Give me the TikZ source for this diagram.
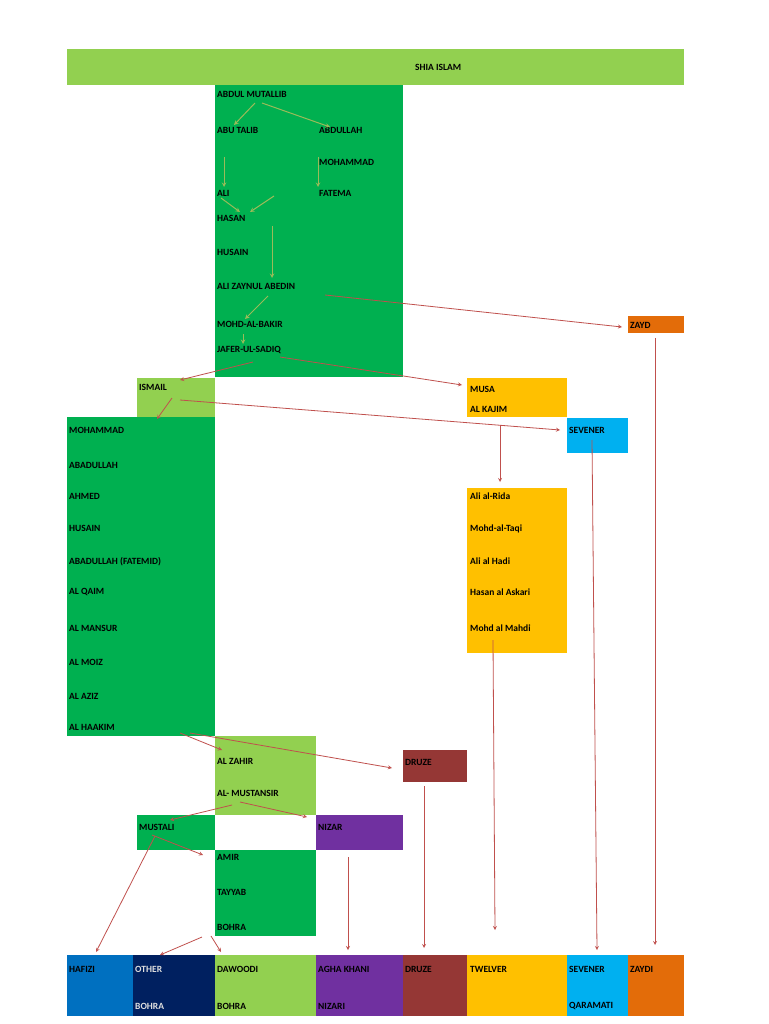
\documentclass[tikz,border=0pt]{standalone}
\usepackage{fontspec}
\setmainfont{Carlito}
\definecolor{lg}{RGB}{146,208,80}
\definecolor{dg}{RGB}{0,176,80}
\definecolor{pu}{RGB}{112,48,160}
\definecolor{dr}{RGB}{149,55,53}
\definecolor{ye}{RGB}{255,192,0}
\definecolor{sb}{RGB}{0,176,240}
\definecolor{orr}{RGB}{227,108,9}
\definecolor{bl}{RGB}{0,112,192}
\definecolor{nv}{RGB}{0,32,96}
\definecolor{ga}{RGB}{155,187,89}
\definecolor{ra}{RGB}{192,80,77}
\begin{document}
\begin{tikzpicture}[x=1pt,y=-1pt,
 t/.style={anchor=west,inner sep=0pt,font=\bfseries\fontsize{9.5}{10}\selectfont},
 ga/.style={draw=ga,line width=1pt,-stealth},
 ra/.style={draw=ra,line width=0.8pt,-stealth}]
\useasboundingbox (0,0) rectangle (768,1024);
\fill[white] (0,0) rectangle (768,1024);
% boxes
\fill[lg] (67,49) rectangle (684,85);
\fill[dg] (215,85) rectangle (403,377);
\fill[lg] (137,378) rectangle (215,417);
\fill[dg] (67,417) rectangle (215,736);
\fill[lg] (215,736) rectangle (316,815);
\fill[dg] (137,815) rectangle (215,850);
\fill[pu] (316,815) rectangle (403,850);
\fill[dg] (215,850) rectangle (316,936);
\fill[dr] (403,750) rectangle (467,782);
\fill[ye] (467,378) rectangle (567,417);
\fill[sb] (567,418) rectangle (628,453);
\fill[orr] (628,316) rectangle (684,333);
\fill[ye] (467,488) rectangle (567,653);
\fill[bl] (67,955) rectangle (133,1016);
\fill[nv] (133,955) rectangle (215,1016);
\fill[lg] (215,955) rectangle (316,1016);
\fill[pu] (316,955) rectangle (403,1016);
\fill[dr] (403,955) rectangle (467,1016);
\fill[ye] (467,955) rectangle (567,1016);
\fill[sb] (567,955) rectangle (628,1016);
\fill[orr] (628,955) rectangle (684,1016);
% texts
\node[t] (shia) at (415,67) {SHIA ISLAM};
\node[t] (amut) at (217,94) {ABDUL MUTALLIB};
\node[t] (abut) at (217,130) {ABU TALIB};
\node[t] (abdu) at (319,130) {ABDULLAH};
\node[t] (moh) at (319,162) {MOHAMMAD};
\node[t] (ali) at (217,193) {ALI};
\node[t] (fat) at (319,193) {FATEMA};
\node[t] (has) at (217,218) {HASAN};
\node[t] (hus) at (217,252) {HUSAIN};
\node[t] (azay) at (217,286) {ALI ZAYNUL ABEDIN};
\node[t] (bak) at (217,324) {MOHD-AL-BAKIR};
\node[t] (jaf) at (217,350) {JAFER-UL-SADIQ};
\node[t] (ism) at (139,387) {ISMAIL};
\node[t] (m2) at (69,430) {MOHAMMAD};
\node[t] at (69,465) {ABADULLAH};
\node[t] at (69,496) {AHMED};
\node[t] at (69,528) {HUSAIN};
\node[t] at (69,562) {ABADULLAH (FATEMID)};
\node[t] at (69,592) {AL QAIM};
\node[t] at (69,628) {AL MANSUR};
\node[t] at (69,662) {AL MOIZ};
\node[t] at (69,696) {AL AZIZ};
\node[t] (haak) at (69,727) {AL HAAKIM};
\node[t] (zah) at (217,761) {AL ZAHIR};
\node[t] (must) at (217,793) {AL- MUSTANSIR};
\node[t] (musl) at (139,827) {MUSTALI};
\node[t] (niz) at (318,827) {NIZAR};
\node[t] (amir) at (217,857) {AMIR};
\node[t] at (217,892) {TAYYAB};
\node[t] (boh) at (217,927) {BOHRA};
\node[t] (dru) at (405,762) {DRUZE};
\node[t] (musa) at (470,389) {MUSA};
\node[t] at (470,409) {AL KAJIM};
\node[t] (sev) at (569,430) {SEVENER};
\node[t] (zayd) at (630,325) {ZAYD};
\node[t] (rida) at (470,496) {Ali al-Rida};
\node[t] at (470,529) {Mohd-al-Taqi};
\node[t] at (470,561) {Ali al Hadi};
\node[t] at (470,592) {Hasan al Askari};
\node[t] (mahdi) at (470,628) {Mohd al Mahdi};
\node[t] (b1) at (69,969) {HAFIZI};
\node[t,text=white!75!gray] (b2) at (135,969) {OTHER};
\node[t,text=white!75!gray] at (135,1006) {BOHRA};
\node[t] (b3) at (217,969) {DAWOODI};
\node[t] at (217,1006) {BOHRA};
\node[t] (b4) at (318,969) {AGHA KHANI};
\node[t] at (318,1006) {NIZARI};
\node[t] (b5) at (405,969) {DRUZE};
\node[t] (b6) at (470,969) {TWELVER};
\node[t] (b7) at (569,969) {SEVENER};
\node[t] at (569,1006) {QARAMATI};
\node[t] (b8) at (630,969) {ZAYDI};
% green arrows
\draw[ga] (255,103) -- (234,125);
\draw[ga] (262,103) -- (330,127);
\draw[ga] (224,157) -- (224,187);
\draw[ga] (318,157) -- (318,187);
\draw[ga] (221,198) -- (240,212);
\draw[ga] (274,196) -- (250,212);
\draw[ga] (272,226) -- (272,278);
\draw[ga] (268,296) -- (245,319);
\draw[ga] (243,334) -- (243,344);
% red arrows
\draw[ra] (325,295) -- (622,327);
\draw[ra] (253,362) -- (180,380);
\draw[ra] (280,357) -- (462,385);
\draw[ra] (172,398) -- (157,419);
\draw[ra] (180,400) -- (560,430);
\draw[ra] (500,425) -- (500,482);
\draw[ra] (655,338) -- (655,945);
\draw[ra] (592,440) -- (597,950);
\draw[ra] (493,640) -- (495,930);
\draw[ra] (180,733) -- (222,750);
\draw[ra] (190,733) -- (392,768);
\draw[ra] (424,786) -- (424,948);
\draw[ra] (232,805) -- (170,820);
\draw[ra] (240,802) -- (307,817);
\draw[ra] (155,836) -- (96,952);
\draw[ra] (152,835) -- (203,855);
\draw[ra] (348,857) -- (348,950);
\draw[ra] (202,937) -- (160,955);
\draw[ra] (211,936) -- (221,952);
\end{tikzpicture}
\end{document}
